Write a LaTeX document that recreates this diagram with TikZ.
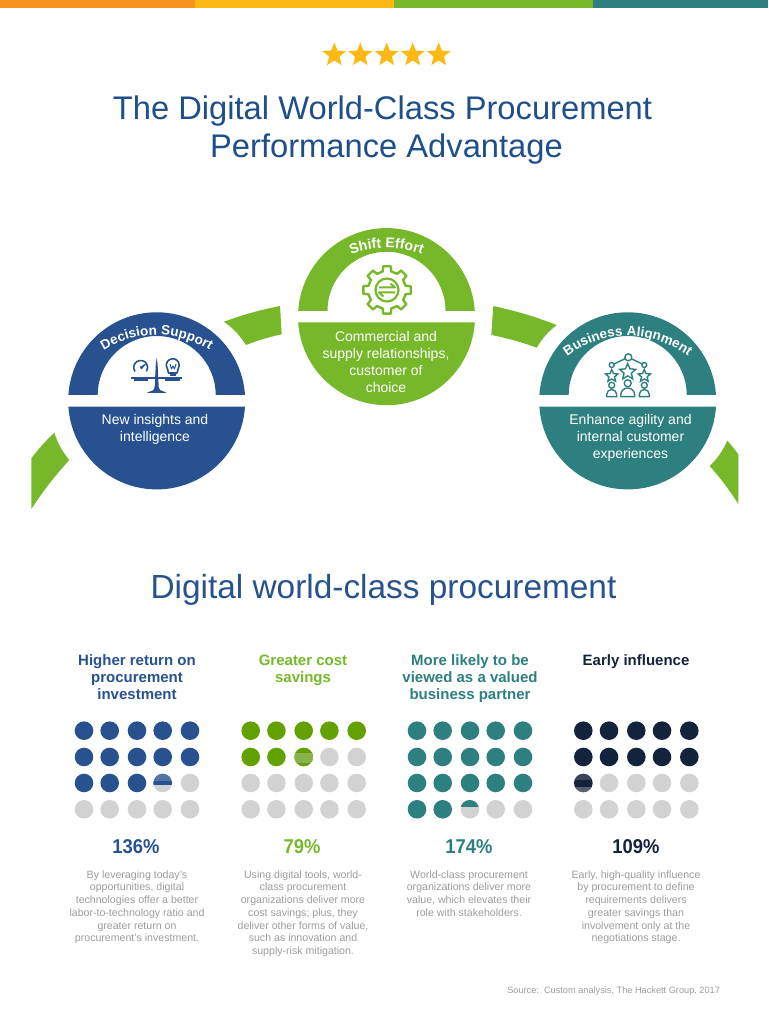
\documentclass[tikz,border=0pt]{standalone}
\usepackage{fontspec}
\setmainfont{Liberation Sans}
\usetikzlibrary{shapes.geometric,decorations.text}
\definecolor{bleu}{HTML}{27528F}
\definecolor{titrebleu}{HTML}{1F4F8B}
\definecolor{vert}{HTML}{76B82A}
\definecolor{vertfonce}{HTML}{62A100}
\definecolor{sarcelle}{HTML}{2D7F80}
\definecolor{marine}{HTML}{14233C}
\definecolor{orange}{HTML}{F7941D}
\definecolor{jaune}{HTML}{FDB913}
\definecolor{gris}{HTML}{D2D2D2}
\definecolor{gristexte}{HTML}{9C9C9C}
\tikzset{etoile/.style={
    star,
    star points=5,
    star point ratio=2.3,
    fill=jaune,
    inner sep=0pt,
    minimum size=25pt}}
\tikzset{titre/.style={
    font=\fontsize{32.7}{38}\selectfont,
    text=titrebleu,
    align=center}}
\tikzset{corps/.style={
    font=\fontsize{14}{17}\selectfont,
    text=white,
    align=center,
    anchor=north}}
\tikzset{entete/.style={
    font=\fontsize{15}{17}\selectfont\bfseries,
    align=center,
    anchor=north}}
\tikzset{pourcent/.style={
    font=\fontsize{20}{20}\selectfont\bfseries}}
\tikzset{detail/.style={
    font=\fontsize{10.6}{12.7}\selectfont,
    text=gristexte,
    align=center,
    anchor=north}}
\tikzset{pastille/.style={
    circle,
    inner sep=0pt,
    minimum size=18.6pt}}
\tikzset{trait/.style={
    line width=1.4pt,
    line join=round,
    fill=none}}
\tikzset{etoileicone/.style={
    star,
    star point ratio=2.2,
    draw=sarcelle,
    line width=1.4pt,
    inner sep=0pt}}
\begin{document}
\begin{tikzpicture}[x=1pt,y=1pt]
\useasboundingbox (0,0) rectangle (768,1024);
% top band
\fill[orange] (0,1016) rectangle (195,1024);
\fill[jaune] (195,1016) rectangle (393.7,1024);
\fill[vert] (393.7,1016) rectangle (593.3,1024);
\fill[sarcelle] (593.3,1016) rectangle (768,1024);
\foreach \sx [count=\i] in {334.3,360.3,386.7,412.7,438.7}
  \node[etoile] (star\i) at (\sx,969) {};
\node[titre] (title1) at (382.5,913) {The Digital World-Class Procurement};
\node[titre] (title2) at (386.5,875) {Performance Advantage};

% green pieces of the big ring
\coordinate (A) at (31.3,565.7);
\coordinate (B) at (54.3,591.3);
\coordinate (C) at (69.3,564);
\coordinate (D) at (31.3,515);
\fill[vert] (A) to[bend left=4] (B) to[bend right=10] (C) to[bend right=4] (D) -- cycle;
\coordinate (E) at (224,702.3);
\coordinate (F) at (280,718);
\coordinate (G) at (281.7,689.7);
\coordinate (H) at (246,679);
\fill[vert] (E) to[bend left=4] (F) -- (G) to[bend right=4] (H) to[bend right=10] (E) -- cycle;
\coordinate (I) at (493.3,718);
\coordinate (J) at (556.7,699);
\coordinate (K) at (536.7,676.3);
\coordinate (L) at (491.3,689);
\fill[vert] (I) to[bend left=4] (J) to[bend right=10] (K) to[bend right=4] (L) -- cycle;
\coordinate (M) at (727.3,583.3);
\coordinate (N) at (738.3,569.7);
\coordinate (P) at (738.3,520);
\coordinate (Q) at (709.7,558);
\fill[vert] (M) to[bend left=3] (N) -- (P) to[bend right=4] (Q) to[bend right=10] (M) -- cycle;

% the three stages
\foreach \cx/\cy/\col in {156.7/623.2/bleu,386.5/707.4/vert,627.7/623.2/sarcelle}{
  \fill[\col] (\cx+88.3,\cy+5.8) arc[start angle=3.75,end angle=176.25,radius=88.5]
    -- (\cx-59,\cy+5.8) arc[start angle=180,end angle=0,radius=59] -- cycle;
  \fill[\col] (\cx+88.3,\cy-5.9) arc[start angle=-3.75,end angle=-176.25,radius=88.5] -- cycle;
}
\path[decorate,decoration={text along path,text align=center,
    text={|\fontsize{13.5}{14}\selectfont\bfseries\color{white}|Decision Support}}]
  (156.7,589) ++(145:100) arc[start angle=145,end angle=35,radius=100];
\path[decorate,decoration={text along path,text align=center,
    text={|\fontsize{14}{14}\selectfont\bfseries\color{white}|Shift Effort}}]
  (386.5,676) ++(145:100) arc[start angle=145,end angle=35,radius=100];
\path[decorate,decoration={text along path,text align=center,
    text={|\fontsize{13.5}{14}\selectfont\bfseries\color{white}|Business Alignment}}]
  (627.7,588) ++(145:100) arc[start angle=145,end angle=35,radius=100];
\node[corps] (support) at (155,613) {New insights and\\intelligence};
\node[corps] (effort) at (386,696.5) {Commercial and\\supply relationships,\\customer of\\choice};
\node[corps] (align) at (630.5,613) {Enhance agility and\\internal customer\\experiences};

% balance icon
\fill[bleu] (155.8,660) -- (156.7,666) -- (157.6,660) -- (158.7,637) -- (160,634) -- (167,631) -- (146.5,631) -- (153.5,634) -- (154.7,637) -- cycle;
\fill[bleu] (131,647) rectangle (182,645);
\fill[bleu] (134,645) rectangle (148,642.5);
\fill[bleu] (165,645) rectangle (180,642.5);
\draw[trait,bleu,line width=1.6pt] (135,652.5) arc[start angle=215,end angle=-35,radius=7];
\fill[bleu] (139.5,657) -- (147,661) -- (141.5,654.5) -- cycle;
\draw[trait,bleu,line width=1.6pt] (168.5,651) -- (167.5,655) arc[start angle=215,end angle=-35,radius=6.5] -- (177,651) -- cycle;
\fill[bleu] (169.5,648) rectangle (176,650);
\draw[trait,bleu,line width=1pt] (170,660) -- (171.5,655) -- (173,658) -- (174.5,655) -- (176,660);

% gear icon
\begin{scope}[shift={(387,734)}]
  \draw[trait,vert,line width=2.4pt] (-14:19) \foreach \a in {0,45,...,315}{
    -- (\a-13:19) -- (\a-9:24) -- (\a+9:24) -- (\a+13:19)} -- cycle;
  \draw[trait,vert,line width=2.2pt] (0,0) circle[radius=11.5];
  \draw[trait,vert,line width=2pt] (-8,2.5) -- (8,2.5) -- (3.5,6.5);
  \draw[trait,vert,line width=2pt] (8,-2.5) -- (-8,-2.5) -- (-3.5,-6.5);
\end{scope}

% people and stars icon
\draw[trait,sarcelle] (611.7,659) -- (628.3,666.7) -- (644.3,659);
\draw[trait,sarcelle,fill=white] (628.3,666.7) circle[radius=3.5];
\draw[trait,sarcelle,fill=white] (611.7,659) circle[radius=2.5];
\draw[trait,sarcelle,fill=white] (644.3,659) circle[radius=2.5];
\node[etoileicone,minimum size=17pt] (starm) at (627.7,652) {};
\node[etoileicone,minimum size=13pt] (starl) at (611.7,648) {};
\node[etoileicone,minimum size=13pt] (starr) at (644.3,648) {};
\draw[trait,sarcelle] (627.7,640.7) circle[radius=3.5];
\draw[trait,sarcelle] (620.7,627.3) -- (620.7,629) arc[start angle=180,end angle=0,radius=7] -- (634.7,627.3) -- cycle;
\draw[trait,sarcelle] (611.7,638.7) circle[radius=3];
\draw[trait,sarcelle] (606.7,627.3) -- (606.7,629.5) arc[start angle=180,end angle=0,radius=5] -- (616.7,627.3) -- cycle;
\draw[trait,sarcelle] (644.3,638.7) circle[radius=3];
\draw[trait,sarcelle] (639.3,627.3) -- (639.3,629.5) arc[start angle=180,end angle=0,radius=5] -- (649.3,627.3) -- cycle;

\node[titre,text=bleu,font=\fontsize{33.4}{38}\selectfont] (sub) at (383.5,434) {Digital world-class procurement};

% columns
\node[entete,text=bleu] (head1) at (137,372.5) {Higher return on\\procurement\\investment};
\node[entete,text=vert] (head2) at (303,372.5) {Greater cost\\savings};
\node[entete,text=sarcelle] (head3) at (470,372.5) {More likely to be\\viewed as a valued\\business partner};
\node[entete,text=marine] (head4) at (636,372.5) {Early influence};

\foreach \gx/\nfull/\col [count=\g] in {84/13/bleu,250.7/7/vertfonce,417/17/sarcelle,583.3/10/marine}{
  \foreach \dx [count=\c from 0] in {0,25.7,53,78.7,106}{
    \foreach \ry [count=\r from 0] in {293.3,267,241,214.7}{
      \pgfmathtruncatemacro\n{\r*5+\c}
      \ifnum\n<\nfull \def\dotcol{\col}\else\def\dotcol{gris}\fi
      \node[pastille,fill=\dotcol] (dot\g-\n) at (\gx+\dx,\ry) {};
    }
  }
}
% the part filled dots
\begin{scope}
  \clip (162.7,241) circle[radius=9.3];
  \fill[bleu!80!white] (150,239) rectangle (175,252);
  \fill[bleu] (150,239) rectangle (175,243.3);
\end{scope}
\begin{scope}
  \clip (303.7,267) circle[radius=9.3];
  \fill[vertfonce] (290,257) rectangle (315,277);
  \fill[vertfonce!65!gris] (290,260.7) rectangle (315,270.7);
\end{scope}
\begin{scope}
  \clip (469.7,214.7) circle[radius=9.3];
  \fill[sarcelle] (455,216.7) rectangle (485,226);
\end{scope}
\begin{scope}
  \clip (583.3,241) circle[radius=9.3];
  \fill[marine!85!white] (570,244) rectangle (595,252);
  \fill[marine] (570,236.7) rectangle (595,244);
  \fill[marine!72!white] (570,230) rectangle (595,236.7);
\end{scope}

\node[pourcent,text=bleu] (pct1) at (136,177) {\scalebox{0.92}[1]{136\%}};
\node[pourcent,text=vert] (pct2) at (302,177) {\scalebox{0.92}[1]{79\%}};
\node[pourcent,text=sarcelle] (pct3) at (469,177) {\scalebox{0.92}[1]{174\%}};
\node[pourcent,text=marine] (pct4) at (636,177) {\scalebox{0.92}[1]{109\%}};

\node[detail] (text1) at (137,157) {By leveraging today’s\\opportunities, digital\\technologies offer a better\\labor-to-technology ratio and\\greater return on\\procurement’s investment.};
\node[detail] (text2) at (303,157) {Using digital tools, world-\\class procurement\\organizations deliver more\\cost savings; plus, they\\deliver other forms of value,\\such as innovation and\\supply-risk mitigation.};
\node[detail] (text3) at (469,157) {World-class procurement\\organizations deliver more\\value, which elevates their\\role with stakeholders.};
\node[detail] (text4) at (636,157) {Early, high-quality influence\\by procurement to define\\requirements delivers\\greater savings than\\involvement only at the\\negotiations stage.};

\node[font=\fontsize{9.2}{11}\selectfont,text=gristexte,anchor=east] (source) at (723.5,32.5) {Source:\ \ Custom analysis, The Hackett Group, 2017};
\end{tikzpicture}
\end{document}
